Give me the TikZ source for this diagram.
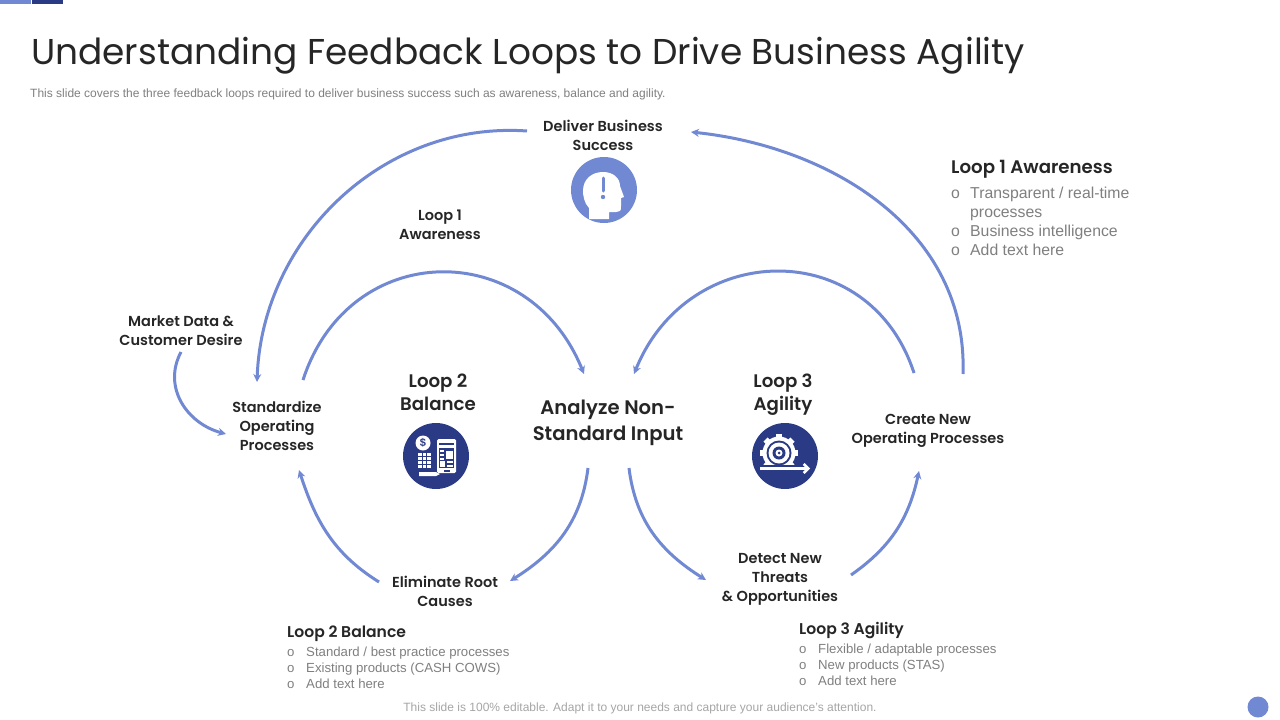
\documentclass[tikz,border=0pt]{standalone}
\usepackage{fontspec}
\setmainfont{Liberation Sans}
\newfontfamily\headfont{Poppins}[BoldFont={Poppins SemiBold}]
\usetikzlibrary{arrows.meta, positioning, calc}
\definecolor{loopblue}{HTML}{7189D3}
\definecolor{navyblue}{HTML}{2A3A84}
\definecolor{inktext}{HTML}{262626}
\definecolor{greytext}{HTML}{7F7F7F}
\newcommand{\fs}[1]{\fontsize{#1}{#1}\selectfont}
\newcommand{\bulletlist}[3]{\fontsize{#1}{#2}\selectfont\color{greytext}\begin{tabular}{@{}p{19pt}@{}l@{}}#3\end{tabular}}
\begin{document}
\begin{tikzpicture}[x=1pt, y=-1pt,
    label/.style={align=center, text=inktext, inner sep=0pt, font=\headfont\bfseries\fontsize{14.5}{19}\selectfont},
    looplabel/.style={align=center, text=inktext, inner sep=0pt, font=\headfont\bfseries\fontsize{18.2}{23}\selectfont},
    listhead/.style={anchor=west, text=inktext, inner sep=0pt},
    listbody/.style={anchor=north west, inner sep=0pt, align=left},
    flow/.style={draw=loopblue, line width=3pt, -{Stealth[length=8pt, width=8pt]}},
    disc/.style={circle, minimum size=66pt, inner sep=0pt}]
    \useasboundingbox (0,0) rectangle (1280,720);
    % Header
    \fill[loopblue] (0,0) rectangle (31,4);
    \fill[navyblue] (32,0) rectangle (63,4);
    \node[anchor=west, inner sep=0pt, text=inktext, font=\headfont\fs{35.9}] (title) at (31,55.5) {Understanding Feedback Loops to Drive Business Agility};
    \node[anchor=west, inner sep=0pt, text=greytext, font=\fs{12}] (subtitle) at (30,94) {This slide covers the three feedback loops required to deliver business success such as awareness, balance and agility.};

    % Steps of the loops
    \node[label] (deliver) at (603,135) {Deliver Business\\Success};
    \node[label] (market) at (181,331) {Market Data \&\\Customer Desire};
    \node[label] (standard) at (277,426) {Standardize\\Operating\\Processes};
    \node[label, font=\headfont\bfseries\fontsize{19.6}{26}\selectfont] (analyze) at (608,423) {Analyze Non-\\Standard Input};
    \node[label] (create) at (928,431) {Create New\\Operating Processes};
    \node[label] (detect) at (780,579) {Detect New\\Threats\\\& Opportunities};
    \node[label] (eliminate) at (445,591) {Eliminate Root\\Causes};
    \node[label] (awareness) at (440,225) {Loop 1\\Awareness};
    \node[looplabel] (balance) at (438,392) {Loop 2\\Balance};
    \node[looplabel] (agility) at (783,395) {Loop 3\\Agility};

    % Connectors
    \draw[flow] ([shift={(-76,-4)}]deliver.center) to[out=176, in=88] ([shift={(-20,-44)}]standard.center);
    \draw[flow] ([shift={(35,-57)}]create.center) to[out=88, in=-6] ([shift={(88,-3)}]deliver.center);
    \draw[flow] ([shift={(26,-46)}]standard.center) to[out=72, in=112, looseness=1.35] ([shift={(-24,-49)}]analyze.center);
    \draw[flow] ([shift={(-14,-58)}]create.center) to[out=108, in=68, looseness=1.32] ([shift={(26,-49)}]analyze.center);
    \draw[flow] ([shift={(-20,45)}]analyze.center) to[out=-97, in=32] ([shift={(65,-10)}]eliminate.center);
    \draw[flow] ([shift={(-66,-9)}]eliminate.center) to[out=148, in=-72] ([shift={(22,44)}]standard.center);
    \draw[flow] ([shift={(21,45)}]analyze.center) to[out=-83, in=148] ([shift={(-74,1)}]detect.center);
    \draw[flow] ([shift={(71,-4)}]detect.center) to[out=35, in=-102] ([shift={(-9,40)}]create.center);
    \draw[flow] ([shift={(0,21)}]market.center) to[out=-118, in=165, looseness=1.1] ([shift={(-51,8)}]standard.center);

    % Icon discs
    \node[disc, fill=loopblue] (headdisc) at (604,190) {};
    \node[disc, fill=navyblue] (moneydisc) at (436,456) {};
    \node[disc, fill=navyblue] (geardisc) at (785,456) {};

    % Head icon
    \fill[white] (589,219) -- (589,208) .. controls (584,203) and (583,195) .. (583,191) .. controls (583,179) and (592,172) .. (603,172) .. controls (613,172) and (620,178) .. (620,186) -- (624,197) -- (621,198) -- (621,206) .. controls (621,211) .. (616,212) -- (609,212) -- (609,219) -- cycle;
    \draw[loopblue, line width=3pt, line cap=round] (603,178) -- (603,191);
    \fill[loopblue] (603,197) circle (2.2);

    % Money icon
    \fill[white] (423,443) circle (7.5);
    \node[inner sep=0pt, text=navyblue, font=\bfseries\fs{11}] (dollar) at (423,443) {\$};
    \fill[white, rounded corners=1.5pt] (437,439) rectangle (456,473);
    \fill[navyblue] (439,443) rectangle (454,468);
    \fill[white] (439,445) rectangle (454,448);
    \foreach \r in {450,454,458} \fill[white] (440,\r) rectangle (444,\r+2);
    \fill[white] (446,451) rectangle (453,459);
    \fill[white] (440,461) rectangle (445,467);
    \fill[white] (447,461) rectangle (453,463);
    \fill[white] (447,465) rectangle (453,467);
    \fill[navyblue] (444,469.5) rectangle (450,471.5);
    \foreach \r in {453,457,461,465} \foreach \c in {418,422.5,427} \fill[white] (\c,\r) rectangle (\c+3.5,\r+2.6);
    \fill[white] (419,472) -- (436,472) -- (440,474) -- (436,476) -- (419,476) -- cycle;

    % Gear icon
    \foreach \a in {0,45,...,315} \fill[white, shift={(779,453)}, rotate=\a] (-3,-19) rectangle (3,0);
    \fill[white] (779,453) circle (16.5);
    \fill[navyblue] (779,453) circle (12.5);
    \fill[white] (779,453) circle (10.5);
    \fill[navyblue] (779,453) circle (6.5);
    \fill[white] (779,453) circle (3.5);
    \fill[navyblue] (779,453) circle (1.5);
    \fill[navyblue] (758,465) rectangle (812,472.5);
    \draw[white, line width=2.6pt, -{Straight Barb[length=4.5pt, width=9pt]}] (760,468.5) -- (810,468.5);

    % Side lists
    \node[listhead, font=\headfont\bfseries\fs{18.2}] (loopone) at (951,169) {Loop 1 Awareness};
    \node[listbody] (loopitems) at (951,185) {\bulletlist{15.8}{19}{o & Transparent / real-time\\ & processes\\ o & Business intelligence\\ o & Add text here}};
    \node[listhead, font=\headfont\bfseries\fs{15.6}] (looptwo) at (287,634) {Loop 2 Balance};
    \node[listbody] (looptwoitems) at (287,645) {\bulletlist{13.2}{16}{o & Standard / best practice processes\\ o & Existing products (CASH COWS)\\ o & Add text here}};
    \node[listhead, font=\headfont\bfseries\fs{15.6}] (loopthree) at (799,631) {Loop 3 Agility};
    \node[listbody] (loopthreeitems) at (799,642) {\bulletlist{13.2}{16}{o & Flexible / adaptable processes\\ o & New products (STAS)\\ o & Add text here}};

    % Footer
    \node[inner sep=0pt, text=greytext!70, font=\fs{12}] (footer) at (640,708) {This slide is 100\% editable. Adapt it to your needs and capture your audience's attention.};
    \node[circle, fill=loopblue, minimum size=21pt, inner sep=0pt] (pagedot) at (1258,707) {};
\end{tikzpicture}
\end{document}
